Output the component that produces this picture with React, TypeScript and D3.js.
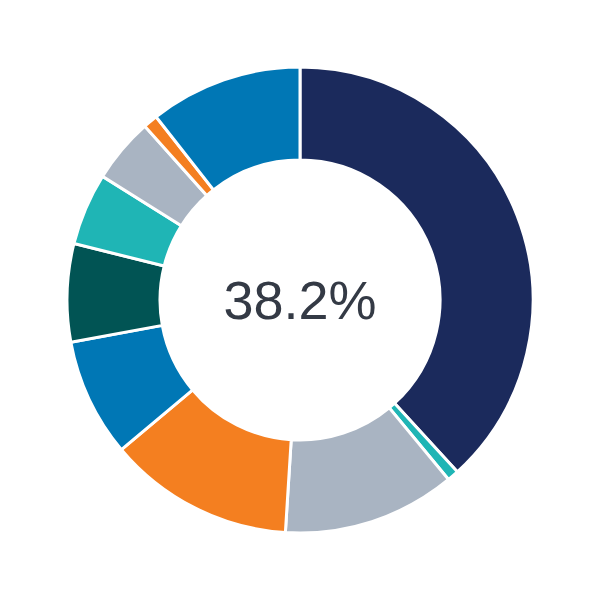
import React from "react";
import * as d3 from "d3";

const categories = ["A", "B", "C", "D", "E", "F", "G", "H", "I", "J"];
const values = [38.2, 0.8, 12.0, 12.9, 8.2, 6.8, 5.0, 4.5, 1.0, 10.6];
const colors = ["#1b2a5c", "#1fb5b5", "#a9b4c2", "#f47f20", "#0077b5", "#015454", "#1fb5b5", "#a9b4c2", "#f47f20", "#0077b5"];
const centerLabel = "38.2%";

export default function App() {
  const W = 600, H = 600, cx = 300, cy = 300, rOuter = 233, rInner = 140;
  const data = categories.map((c, i) => ({ c, v: values[i], col: colors[i] }));
  const pie = d3.pie<any>().sort(null).value((d) => d.v);
  const arc = d3.arc<any>().innerRadius(rInner).outerRadius(rOuter);
  const arcs = pie(data);
  return (
    <svg width={W} height={H} style={{ position: "absolute", left: 0, top: 0 }}>
      <rect width={W} height={H} fill="#fff" />
      <g transform={`translate(${cx},${cy})`}>
        {arcs.map((a, i) => (
          <path key={i} d={arc(a) as string} fill={a.data.col} stroke="#fff" strokeWidth={3} />
        ))}
        <text x={0} y={0} dy="0.36em" textAnchor="middle" fontFamily="Liberation Sans, Arial, sans-serif" fontSize={54} fill="#343a45">
          {centerLabel}
        </text>
      </g>
    </svg>
  );
}
